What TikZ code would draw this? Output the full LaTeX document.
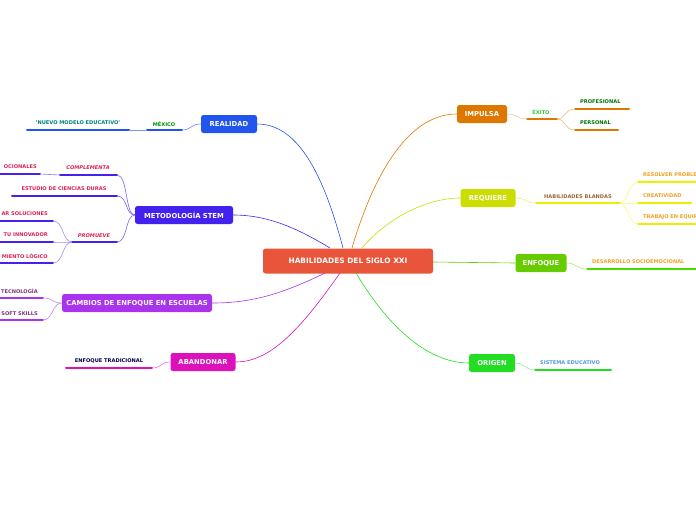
\documentclass[tikz,border=0pt]{standalone}
\usepackage{fontspec}
\setmainfont{DejaVu Sans}
\begin{document}
\begin{tikzpicture}[x=1pt,y=-1pt,
 topic/.style={rounded corners=2.5pt,text=white,font=\bfseries\fontsize{6.8}{7}\selectfont,minimum height=18pt,inner sep=0pt},
 leaf/.style={font=\bfseries\fontsize{5.1}{5}\selectfont,inner sep=0pt},
 ul/.style={line width=2pt,line cap=round},
 cn/.style={line width=0.6pt}]
\useasboundingbox (0,0) rectangle (696,520);
\clip (0,0) rectangle (696,520);
\definecolor{cred}{HTML}{E8553A}\definecolor{cblue}{HTML}{2255EE}\definecolor{cstem}{HTML}{4422EE}
\definecolor{cpur}{HTML}{AA33EE}\definecolor{cmag}{HTML}{DD11BB}\definecolor{corg}{HTML}{DD7700}
\definecolor{cyel}{HTML}{CCDD00}\definecolor{cgrn}{HTML}{66CC00}\definecolor{cgr2}{HTML}{22DD22}
\definecolor{leafred}{HTML}{DD2255}\definecolor{ylw}{HTML}{EEEE00}\definecolor{lorg}{HTML}{F4A020}
% central
\node[topic,fill=cred,minimum width=170pt,minimum height=25pt,font=\bfseries\fontsize{7.4}{8}\selectfont] (c) at (348,261) {HABILIDADES DEL SIGLO XXI};
\node[topic,fill=cblue,minimum width=56pt] (rea) at (229,124) {REALIDAD};
\node[topic,fill=cstem,minimum width=98pt] (stem) at (184,215) {METODOLOGÍA STEM};
\node[topic,fill=cpur,minimum width=150pt] (camb) at (137,303) {CAMBIOS DE ENFOQUE EN ESCUELAS};
\node[topic,fill=cmag,minimum width=65pt] (aban) at (203,362) {ABANDONAR};
\node[topic,fill=corg,minimum width=50pt] (imp) at (482,114) {IMPULSA};
\node[topic,fill=cyel,minimum width=55pt] (req) at (488,198) {REQUIERE};
\node[topic,fill=cgrn,minimum width=51pt] (enf) at (541,263) {ENFOQUE};
\node[topic,fill=cgr2,minimum width=46pt] (ori) at (492,363) {ORIGEN};
% central connectors
\coordinate (c1) at (343,248);\coordinate (c2) at (330,248);\coordinate (c3) at (325,273);
\coordinate (c4) at (340,273);\coordinate (c5) at (352,248);\coordinate (c6) at (362,248);
\coordinate (c7) at (433,262);\coordinate (c8) at (356,273);
\draw[cn,cblue] (c1) .. controls (325,180) and (300,124) .. (rea.east);
\draw[cn,cstem] (c2) .. controls (300,230) and (270,215) .. (stem.east);
\draw[cn,cpur] (c3) .. controls (280,295) and (250,303) .. (camb.east);
\draw[cn,cmag] (c4) .. controls (300,330) and (270,362) .. (aban.east);
\draw[cn,corg] (c5) .. controls (375,170) and (410,114) .. (imp.west);
\draw[cn,cyel] (c6) .. controls (390,215) and (430,198) .. (req.west);
\draw[cn,cgrn] (c7) -- (enf.west);
\draw[cn,cgr2] (c8) .. controls (390,330) and (430,363) .. (ori.west);
% REALIDAD
\coordinate (mx) at (182,130);\coordinate (mx0) at (147,130);
\draw[ul,cblue] (mx0) -- (mx); \node[leaf,text=green!55!black] (mxt) at (164,124) {MÉXICO};
\draw[cn,cblue!70] (rea.west) .. controls (190,124) and (192,130) .. (mx);
\coordinate (nm) at (129,130);\coordinate (nm0) at (27,130);
\draw[ul,cblue] (nm0) -- (nm); \node[leaf,text=teal] (nmt) at (78,122.5) {'NUEVO MODELO EDUCATIVO'};
\draw[cn,cblue!60] (nm) -- (mx0);
% STEM
\coordinate (co) at (117,175);\coordinate (co0) at (60,175);
\draw[ul,cstem] (co0) -- (co); \node[leaf,text=leafred,font=\bfseries\itshape\fontsize{5.1}{5}\selectfont] (cot) at (88,168) {COMPLEMENTA};
\coordinate (oc) at (40,174);\coordinate (oc0) at (-2,174);
\draw[ul,cstem] (oc0) -- (oc); \node[leaf,text=leafred,anchor=east] (oct) at (37,167) {OCIONALES};
\draw[cn,cstem!60] (oc) -- (co0);
\coordinate (ed) at (117,196);\coordinate (ed0) at (12,196);
\draw[ul,cstem] (ed0) -- (ed); \node[leaf,text=leafred] (edt) at (64,188.5) {ESTUDIO DE CIENCIAS DURAS};
\coordinate (pr) at (117,242);\coordinate (pr0) at (72,242);
\draw[ul,cstem] (pr0) -- (pr); \node[leaf,text=leafred,font=\bfseries\itshape\fontsize{5.1}{5}\selectfont] (prt) at (94,236) {PROMUEVE};
\draw[cn,cstem!70] (stem.west) .. controls (125,215) and (128,175) .. (co);
\draw[cn,cstem!70] (stem.west) .. controls (125,215) and (128,196) .. (ed);
\draw[cn,cstem!70] (stem.west) .. controls (125,215) and (128,242) .. (pr);
\foreach \y/\t/\n in {221/AR SOLUCIONES/a,242/TU INNOVADOR/b,263/MIENTO LÓGICO/d}{
 \coordinate (s\n) at (53,\y);\coordinate (s\n0) at (-2,\y);
 \draw[ul,cstem] (s\n0) -- (s\n); \node[leaf,text=leafred,anchor=east] (s\n t) at (48,\y-7) {\t};
 \draw[cn,cstem!50] (pr0) .. controls (62,242) and (64,\y) .. (s\n);}
% CAMBIOS
\foreach \y/\t/\n in {298/TECNOLOGÍA/a,320/SOFT SKILLS/b}{
 \coordinate (k\n) at (43,\y);\coordinate (k\n0) at (-2,\y);
 \draw[ul,cpur] (k\n0) -- (k\n); \node[leaf,text=violet!60!gray,anchor=east] (k\n t) at (38,\y-6.5) {\t};
 \draw[cn,cpur!60] (camb.west) .. controls (52,303) and (53,\y) .. (k\n);}
% ABANDONAR
\coordinate (et) at (152,368);\coordinate (et0) at (66,368);
\draw[ul,cmag] (et0) -- (et); \node[leaf,text=blue!30!black] (ett) at (109,361) {ENFOQUE TRADICIONAL};
\draw[cn,cmag!60] (aban.west) .. controls (160,362) and (162,368) .. (et);
% IMPULSA
\coordinate (ex) at (557,119);\coordinate (ex0) at (527,119);
\draw[ul,corg] (ex0) -- (ex); \node[leaf,text=green!60!gray] (ext) at (541,112) {ÉXITO};
\draw[cn,corg!40] (imp.east) .. controls (517,114) and (516,119) .. (ex0);
\foreach \y/\t/\n/\e in {109/PROFESIONAL/a/629,130/PERSONAL/b/618}{
 \coordinate (i\n) at (575,\y);\coordinate (i\n1) at (\e,\y);
 \draw[ul,corg] (i\n) -- (i\n1); \node[leaf,text=green!45!black,anchor=west] (i\n t) at (580,\y-7) {\t};
 \draw[cn,corg!50] (ex) .. controls (566,119) and (564,\y) .. (i\n);}
% REQUIERE
\coordinate (hb) at (620,203);\coordinate (hb0) at (536,203);
\draw[ul,ylw] (hb0) -- (hb); \node[leaf,text=brown!80!black] (hbt) at (578,197) {HABILIDADES BLANDAS};
\draw[cn,cyel!50] (req.east) .. controls (526,198) and (525,203) .. (hb0);
\foreach \y/\t/\n/\e in {182/RESOLVER PROBLEMAS/a/700,203/CREATIVIDAD/b/691,224/TRABAJO EN EQUIPO/d/700}{
 \coordinate (r\n) at (638,\y);\coordinate (r\n1) at (\e,\y);
 \draw[ul,ylw] (r\n) -- (r\n1); \node[leaf,text=lorg,anchor=west] (r\n t) at (643,\y-7) {\t};
 \draw[cn,ylw!50] (hb) .. controls (628,203) and (628,\y) .. (r\n);}
% ENFOQUE
\coordinate (ds) at (700,269);\coordinate (ds0) at (587,269);
\draw[ul,cgrn!70!green] (ds0) -- (ds); \node[leaf,text=lorg,anchor=west] (dst) at (592,262) {DESARROLLO SOCIOEMOCIONAL};
\draw[cn,cgrn!50] (enf.east) .. controls (577,263) and (576,269) .. (ds0);
% ORIGEN
\coordinate (se) at (611,370);\coordinate (se0) at (535,370);
\draw[ul,cgr2] (se0) -- (se); \node[leaf,text=cyan!60!blue!70,anchor=west] (set) at (540,363) {SISTEMA EDUCATIVO};
\draw[cn,cgr2!50] (ori.east) .. controls (525,363) and (525,370) .. (se0);
\end{tikzpicture}
\end{document}
